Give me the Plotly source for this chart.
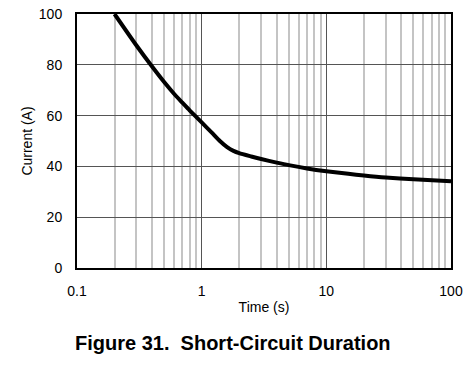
import plotly.graph_objects as go

# Data
time_s = [0.2, 0.3, 0.4, 0.5, 0.6, 0.7, 0.8, 1.0, 1.2, 1.4, 1.6, 1.8, 2.0, 2.5, 3.0,
          4.0, 5.0, 7.0, 10.0, 15.0, 20.0, 30.0, 50.0, 100.0]
current_a = [100, 87.6, 79.3, 73.2, 68.6, 65.1, 62.1, 57.3, 53.4, 50.0, 47.6, 46.1, 45.2, 43.9, 42.9,
             41.5, 40.5, 39.2, 38.1, 37.1, 36.4, 35.6, 34.9, 34.2]

x_major = [0.1, 1, 10, 100]
x_major_text = ["0.1", "1", "10", "100"]
x_minor = [m * d for d in (0.1, 1, 10) for m in range(2, 10)]
y_ticks = [0, 20, 40, 60, 80, 100]

FONT = "Liberation Sans, Arial, sans-serif"

fig = go.Figure()
fig.add_trace(go.Scatter(
    x=time_s, y=current_a, mode="lines",
    line=dict(color="black", width=4, shape="spline", smoothing=0.6),
    showlegend=False, hoverinfo="skip",
))

fig.update_layout(
    width=474, height=366,
    margin=dict(l=77, r=23, t=14, b=98, autoexpand=False),
    paper_bgcolor="white", plot_bgcolor="white",
    font=dict(family=FONT, size=14, color="black"),
    showlegend=False,
    xaxis=dict(
        type="log", range=[-1, 2],
        tickmode="array", tickvals=x_major, ticktext=x_major_text,
        showgrid=True, gridcolor="#555555", gridwidth=1,
        minor=dict(tickmode="array", tickvals=x_minor, showgrid=True,
                   gridcolor="#c4c4c4", gridwidth=1.5, ticks=""),
        showline=True, linecolor="black", linewidth=2, mirror=True,
        ticks="", ticklabelstandoff=9,
        title=dict(text="Time (s)", standoff=4, font=dict(size=14)),
        zeroline=False,
    ),
    yaxis=dict(
        range=[0, 100],
        tickmode="array", tickvals=y_ticks,
        showgrid=True, gridcolor="#555555", gridwidth=1,
        showline=True, linecolor="black", linewidth=2, mirror=True,
        ticks="", ticklabelstandoff=10,
        title=dict(text="Current (A)", standoff=3, font=dict(size=14)),
        zeroline=False,
    ),
    annotations=[dict(
        text="<b>Figure 31.  Short-Circuit Duration</b>",
        xref="paper", yref="paper", x=0.418, y=-0.295,
        xanchor="center", yanchor="middle", showarrow=False,
        font=dict(family=FONT, size=20, color="black"),
    )],
)

fig.write_html("out.html", config={"displayModeBar": False},
               post_script="document.body.style.margin='0';")
